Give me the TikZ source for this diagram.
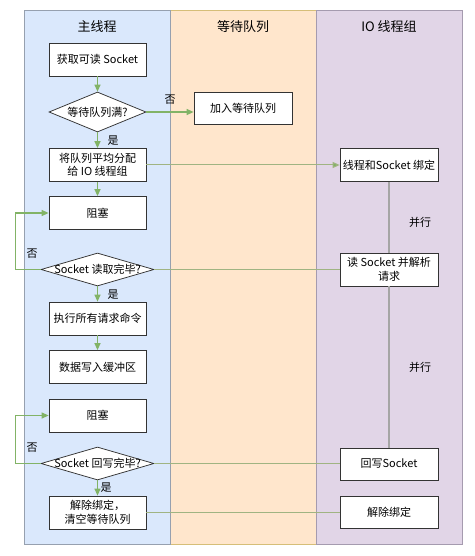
\documentclass[tikz,border=0pt]{standalone}
\usepackage{fontspec}
\setmainfont{Noto Sans CJK SC}
\usetikzlibrary{shapes.geometric,arrows.meta}

\newcommand{\stepfont}{\fontsize{11}{13.5}\selectfont}
\newcommand{\lanefont}{\fontsize{13}{15}\selectfont}

\tikzset{
	every picture/.style={line width=0.75pt},
	every label/.style={font=\stepfont},
	stepbox/.style={draw={rgb, 255:red, 51; green, 51; blue, 51}, fill=white, minimum width=97pt, minimum height=33pt, inner sep=0pt, align=center, font=\stepfont},
	choice/.style={shape=diamond, draw={rgb, 255:red, 51; green, 51; blue, 51}, fill=white, inner sep=0pt, minimum width=113pt, minimum height=33pt},
	flow/.style={draw={rgb, 255:red, 130; green, 179; blue, 102}, line width=1.2pt, -{Triangle[length=7pt,width=6pt]}},
	link/.style={draw={rgb, 255:red, 160; green, 180; blue, 130}, line width=1pt},
	linkarrow/.style={link, -{Triangle[length=7pt,width=6pt,fill={rgb, 255:red, 130; green, 179; blue, 102}]}},
	syncline/.style={draw={rgb, 255:red, 165; green, 165; blue, 165}, line width=1.5pt},
	tag/.style={font=\stepfont, inner sep=1pt}}

\begin{document}
\begin{tikzpicture}[x=1pt,y=1pt,yscale=-1,xscale=1]
	\useasboundingbox (0,0) rectangle (474,556);

	%Shape: Rectangle [lane: waiting queue]
	\draw [draw={rgb, 255:red, 214; green, 190; blue, 120}, fill={rgb, 255:red, 255; green, 230; blue, 204}] (170,10) rectangle (316,544);
	%Shape: Rectangle [lane: main thread]
	\draw [draw={rgb, 255:red, 150; green, 160; blue, 175}, fill={rgb, 255:red, 218; green, 232; blue, 252}] (24,10) rectangle (170,544);
	%Shape: Rectangle [lane: io threads]
	\draw [draw={rgb, 255:red, 165; green, 155; blue, 175}, fill={rgb, 255:red, 225; green, 213; blue, 231}] (316,10) rectangle (462,544);

	% Lane titles
	\node [font=\lanefont] (tmain) at (97,27) {主线程};
	\node [font=\lanefont] (twait) at (243,27) {等待队列};
	\node [font=\lanefont] (tio) at (389,27) {IO 线程组};

	% Main thread
	\node [stepbox] (fetch) at (97.5,59.5) {获取可读 Socket};
	\node [choice, minimum width=97pt, minimum height=40pt, label={center:等待队列满?}] (full) at (97.5,112) {};
	\node [stepbox] (split) at (97.5,165) {将队列平均分配\\给 IO 线程组};
	\node [stepbox] (block1) at (97.5,213) {阻塞};
	\node [choice, label={center:Socket 读取完毕?}] (readok) at (97.5,269.5) {};
	\node [stepbox] (exec) at (97.5,318.5) {执行所有请求命令};
	\node [stepbox] (buffer) at (97.5,367) {数据写入缓冲区};
	\node [stepbox] (block2) at (97.5,415.5) {阻塞};
	\node [choice, label={center:Socket 回写完毕?}] (writeok) at (97.5,463.5) {};
	\node [stepbox] (clear) at (97.5,512.5) {解除绑定，\\清空等待队列};

	% Waiting queue
	\node [stepbox, minimum width=98pt, minimum height=32pt] (enqueue) at (243,108) {加入等待队列};

	% IO threads
	\node [stepbox, minimum width=98pt] (bind) at (389,165) {线程和Socket 绑定};
	\node [stepbox, minimum width=98pt] (parse) at (389,269.5) {读 Socket 并解析\\请求};
	\node [stepbox, minimum width=98pt, minimum height=32pt] (reply) at (389,464) {回写Socket};
	\node [stepbox, minimum width=98pt, minimum height=32pt] (unbind) at (389,512) {解除绑定};

	% Connectors
	\draw [flow] (fetch) -- (full);
	\draw [flow] (full.east) -- (full.east -| enqueue.west);
	\draw [flow] (full) -- (split);
	\draw [flow] (split) -- (block1);
	\draw [linkarrow] (split) -- (bind);
	\draw [flow] (readok.west) -- ++(-25,0) |- (block1.west);
	\draw [flow] (readok) -- (exec);
	\draw [flow] (exec) -- (buffer);
	\draw [flow] (writeok.west) -- ++(-25,0) |- (block2.west);
	\draw [flow] (writeok) -- (clear);
	\draw [link] (readok.east) -- (parse.west);
	\draw [link] (writeok.east) -- (writeok.east -| reply.west);
	\draw [link] (clear.east) -- (clear.east -| unbind.west);
	\draw [syncline] (bind) -- (parse);
	\draw [syncline] (parse) -- (reply);

	% Text Node
	\node [tag] (no1) at (170,100) {否};
	\node [tag] (yes1) at (113,141) {是};
	\node [tag] (no2) at (32,254) {否};
	\node [tag] (yes2) at (113,295) {是};
	\node [tag] (no3) at (32,448) {否};
	\node [tag] (yes3) at (106,488) {是};
	\node [tag] (par1) at (420,222) {并行};
	\node [tag] (par2) at (420,367) {并行};
\end{tikzpicture}
\end{document}
